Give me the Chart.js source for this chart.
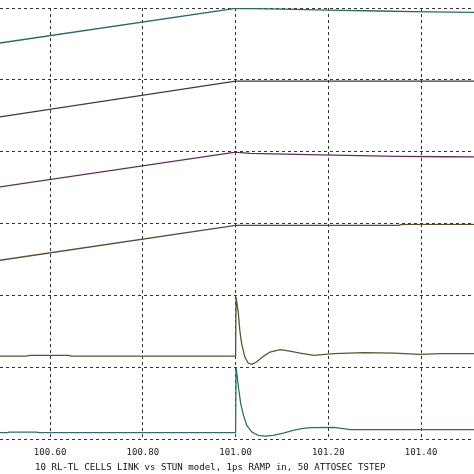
<!DOCTYPE html>
<html>
<head>
<meta charset="utf-8">
<script src="https://cdn.jsdelivr.net/npm/chart.js@4/dist/chart.umd.min.js"></script>
<style>
  html, body { margin: 0; padding: 0; background: #fff; }
  #wrap { position: relative; width: 474px; height: 474px; }
  #chart { display: block; }
  #caption {
    position: absolute; left: 35px; top: 462px;
    font: 9.1px "DejaVu Sans Mono", monospace; line-height: 11px;
    color: #111; white-space: pre;
  }
</style>
</head>
<body>
<div id="wrap">
  <canvas id="chart" width="474" height="474"></canvas>
  <div id="caption">10 RL-TL CELLS LINK vs STUN model, 1ps RAMP in, 50 ATTOSEC TSTEP</div>
</div>
<script>
// time axis (ps)
const xTicks = [100.6, 100.8, 101.0, 101.2, 101.4];
const xMin = 100.492;
const xMax = 101.514;

// one trace per strip, [time, normalised level]
const trace1 = [[100.492, 0.513], [101.000, 0.995], [101.100, 0.984], [101.203, 0.971],
  [101.309, 0.958], [101.417, 0.945], [101.514, 0.938]];
const trace2 = [[100.492, 0.486], [101.000, 0.983], [101.514, 0.983]];
const trace3 = [[100.492, 0.511], [101.000, 0.995], [101.031, 0.978], [101.132, 0.963],
  [101.240, 0.949], [101.346, 0.936], [101.453, 0.930], [101.514, 0.928]];
const trace4 = [[100.492, 0.490], [101.000, 0.974], [101.350, 0.974], [101.360, 0.990],
  [101.514, 0.990]];
const trace5 = [[100.492, 0.157], [100.550, 0.157], [100.556, 0.167], [100.640, 0.167],
  [100.646, 0.157], [101.000, 0.157], [101.001, 0.979], [101.006, 0.748], [101.009, 0.515],
  [101.013, 0.330], [101.020, 0.143], [101.027, 0.060], [101.035, 0.042], [101.045, 0.074],
  [101.060, 0.153], [101.074, 0.213], [101.096, 0.247], [101.117, 0.227], [101.139, 0.199],
  [101.169, 0.167], [101.212, 0.191], [101.277, 0.205], [101.341, 0.199], [101.399, 0.181],
  [101.442, 0.191], [101.514, 0.191]];
const trace6 = [[100.492, 0.091], [100.508, 0.091], [100.511, 0.099], [100.572, 0.099],
  [100.575, 0.091], [101.000, 0.091], [101.001, 1.000], [101.006, 0.726], [101.011, 0.494],
  [101.017, 0.331], [101.024, 0.192], [101.035, 0.099], [101.049, 0.053], [101.063, 0.043],
  [101.081, 0.053], [101.103, 0.085], [101.124, 0.123], [101.139, 0.143], [101.160, 0.160],
  [101.212, 0.165], [101.248, 0.132], [101.514, 0.132]];

const traces = [trace1, trace2, trace3, trace4, trace5, trace6];
const traceColors = ['#2b6a62', '#3a3a3a', '#5e2f5e', '#5e4a33', '#5a5530', '#2f6f66'];

const gridColor = '#333';
const monoFont = { family: 'DejaVu Sans Mono', size: 9 };

/**
 * strip axis: one band of the stack, dashed line on top and bottom
 */
function stripAxis() {
  return {
    type: 'linear',
    position: 'right',
    stack: 'strips',
    stackWeight: 1,
    min: 0,
    max: 1,
    afterBuildTicks: (scale) => { scale.ticks = [{ value: 0 }, { value: 1 }]; },
    ticks: { display: false },
    grid: { color: gridColor, lineWidth: 1, drawTicks: false },
    border: { display: false, dash: [3, 3] }
  };
}

const scales = {
  x: {
    type: 'linear',
    min: xMin,
    max: xMax,
    afterBuildTicks: (scale) => { scale.ticks = xTicks.map(v => ({ value: v })); },
    ticks: {
      callback: (v) => Number(v).toFixed(2),
      font: monoFont,
      color: '#222',
      padding: 8,
      maxRotation: 0,
      autoSkip: false
    },
    grid: { color: gridColor, lineWidth: 1, drawTicks: false },
    border: { display: false, dash: [3, 3] }
  }
};
traces.forEach((t, i) => { scales['p' + (i + 1)] = stripAxis(); });

const datasets = traces.map((t, i) => ({
  label: 'trace ' + (i + 1),
  data: t.map(([x, y]) => ({ x, y })),
  yAxisID: 'p' + (i + 1),
  borderColor: traceColors[i],
  borderWidth: 1.3,
  pointRadius: 0,
  tension: 0,
  fill: false
}));

new Chart(document.getElementById('chart').getContext('2d'), {
  type: 'line',
  data: { datasets },
  options: {
    responsive: false,
    animation: false,
    layout: { padding: { top: 8, bottom: 8, left: 0, right: 0 } },
    scales,
    plugins: {
      legend: { display: false },
      tooltip: { enabled: false }
    }
  }
});
</script>
</body>
</html>
